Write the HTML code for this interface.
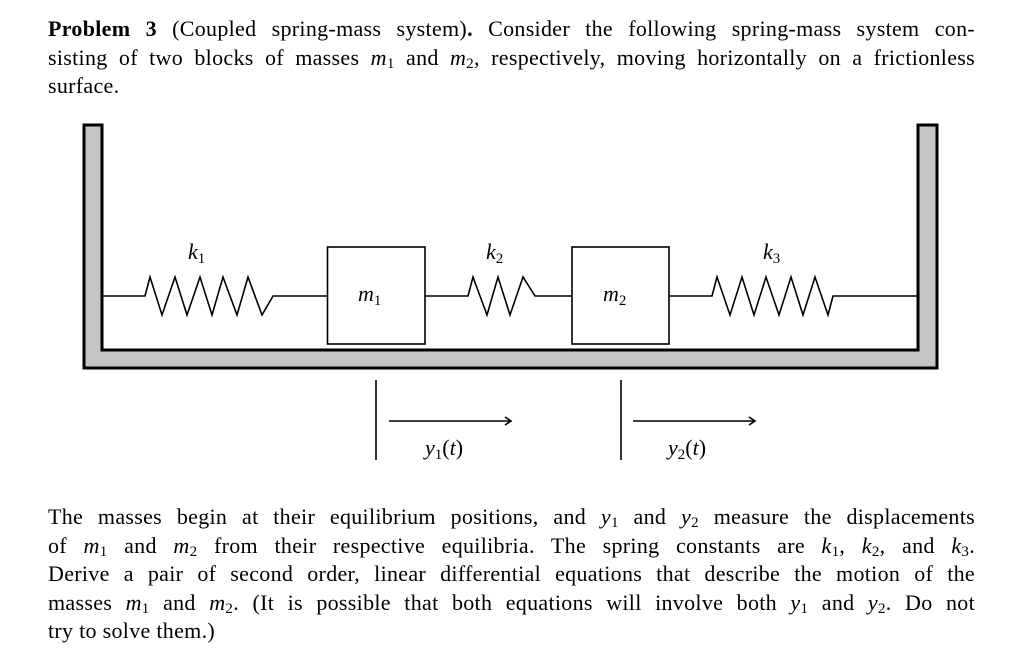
<!DOCTYPE html>
<html><head><meta charset="utf-8"><style>
body{margin:0;width:1024px;height:657px;background:#fff;position:relative;overflow:hidden;font-family:"Liberation Serif",serif;color:#000}
.t{position:absolute;left:48px;width:927px;font-size:22px;line-height:28.5px;letter-spacing:0.3px}
.l{text-align:justify;text-align-last:justify;white-space:nowrap;display:block}
.l.n{text-align-last:left}
i{font-style:italic}
sub{font-size:15px;vertical-align:-3px;line-height:0}
svg{position:absolute;left:0;top:0}
</style></head><body>
<div class="t" style="top:15px">
<span class="l"><b>Problem 3</b> (Coupled spring-mass system)<b>.</b> Consider the following spring-mass system con-</span>
<span class="l">sisting of two blocks of masses <i>m</i><sub>1</sub> and <i>m</i><sub>2</sub>, respectively, moving horizontally on a frictionless</span>
<span class="l n">surface.</span>
</div>
<svg width="1024" height="657" viewBox="0 0 1024 657">
<path d="M84,125 H102 V350 H918 V125 H937 V368 H84 Z" fill="#c4c4c4" stroke="#000" stroke-width="3" stroke-linejoin="miter"/>
<g fill="none" stroke="#000" stroke-width="1.6" stroke-linejoin="miter">
<polyline points="102,296 145,296 150,277 162,315 175,277 187,315 200,277 212,315 223,277 237,315 248,277 262,315 273,296 328,296"/>
<polyline points="425,296 468,296 473,277 487,315 498,277 510,315 523,277 535,296 572,296"/>
<polyline points="669,296 712,296 717,277 730,315 742,277 754,315 766,277 779,315 791,277 803,315 815,277 828,315 833,296 918,296"/>
<rect x="327.5" y="247" width="97.5" height="97" fill="#fff"/>
<rect x="572" y="247" width="97" height="97" fill="#fff"/>
<line x1="376" y1="380" x2="376" y2="460"/>
<line x1="621" y1="380" x2="621" y2="460"/>
<line x1="389" y1="421" x2="510" y2="421"/>
<line x1="633" y1="421" x2="755" y2="421"/>
<polyline points="505,417 511,421 505,425"/>
<polyline points="749,417 755,421 749,425"/>
</g>
<g font-family="Liberation Serif, serif" font-size="22" font-style="italic">
<text x="188" y="259">k<tspan font-size="15" font-style="normal" dy="4">1</tspan></text>
<text x="486" y="259">k<tspan font-size="15" font-style="normal" dy="4">2</tspan></text>
<text x="763" y="259">k<tspan font-size="15" font-style="normal" dy="4">3</tspan></text>
<text x="358" y="301">m<tspan font-size="15" font-style="normal" dy="4">1</tspan></text>
<text x="603" y="301">m<tspan font-size="15" font-style="normal" dy="4">2</tspan></text>
<text x="425" y="455">y<tspan font-size="15" font-style="normal" dy="4">1</tspan><tspan font-style="normal" dy="-4">(</tspan>t<tspan font-style="normal">)</tspan></text>
<text x="668" y="455">y<tspan font-size="15" font-style="normal" dy="4">2</tspan><tspan font-style="normal" dy="-4">(</tspan>t<tspan font-style="normal">)</tspan></text>
</g>
</svg>
<div class="t" style="top:503px">
<span class="l">The masses begin at their equilibrium positions, and <i>y</i><sub>1</sub> and <i>y</i><sub>2</sub> measure the displacements</span>
<span class="l">of <i>m</i><sub>1</sub> and <i>m</i><sub>2</sub> from their respective equilibria. The spring constants are <i>k</i><sub>1</sub>, <i>k</i><sub>2</sub>, and <i>k</i><sub>3</sub>.</span>
<span class="l">Derive a pair of second order, linear differential equations that describe the motion of the</span>
<span class="l">masses <i>m</i><sub>1</sub> and <i>m</i><sub>2</sub>. (It is possible that both equations will involve both <i>y</i><sub>1</sub> and <i>y</i><sub>2</sub>. Do not</span>
<span class="l n">try to solve them.)</span>
</div>
</body></html>
